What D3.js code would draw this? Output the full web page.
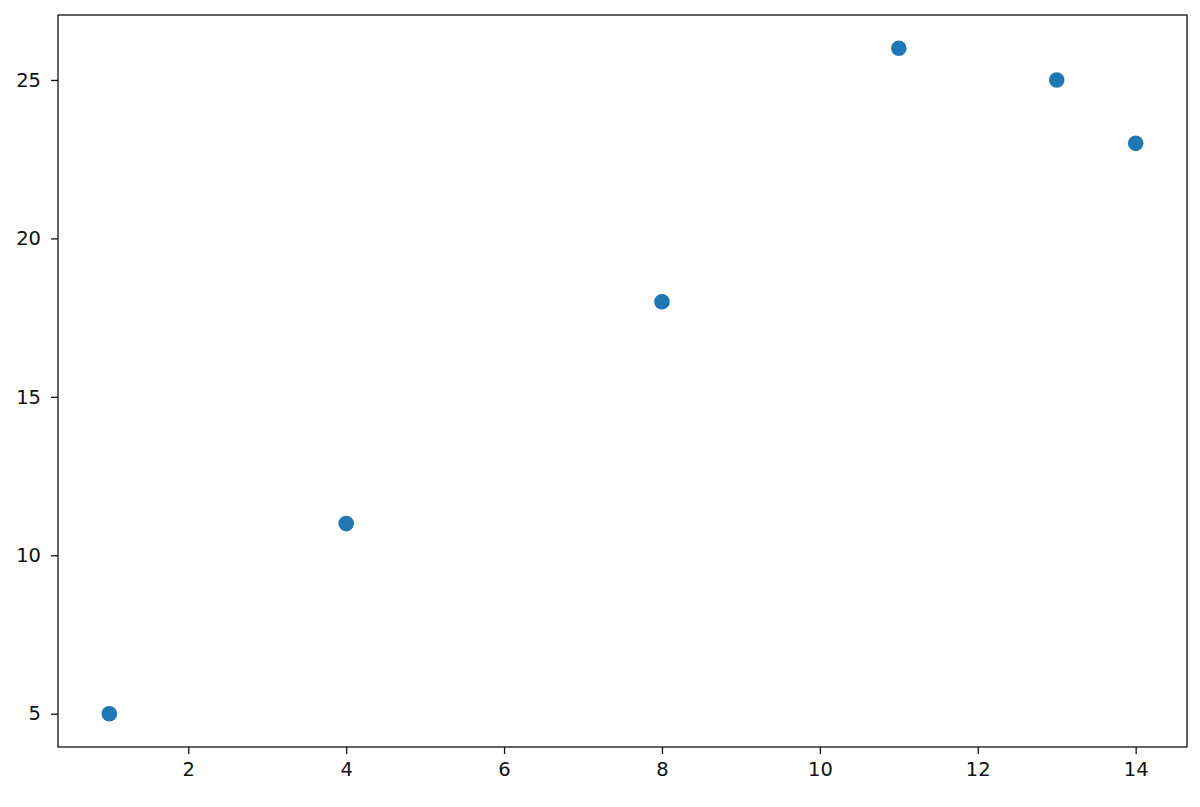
<!DOCTYPE html>
<html>
<head>
<meta charset="utf-8">
<script src="https://cdn.jsdelivr.net/npm/d3@7"></script>
<style>
  body { margin: 0; background: #fff; }
  .axis text { font-family: "DejaVu Sans", sans-serif; font-size: 19.5px; fill: #111; }
  .axis line { stroke: #111; stroke-width: 1.3; }
</style>
</head>
<body>
<div id="chart"></div>
<script>
var xValues = [1, 4, 8, 11, 13, 14];
var yValues = [5, 11, 18, 26, 25, 23];
var xTicks = [2, 4, 6, 8, 10, 12, 14];
var yTicks = [5, 10, 15, 20, 25];

var width = 1200, height = 807;
var margin = { top: 15, right: 13, bottom: 60, left: 58 };
var innerW = width - margin.left - margin.right;
var innerH = height - margin.top - margin.bottom;

// matplotlib-style 5% padding around data
var xExt = d3.extent(xValues), yExt = d3.extent(yValues);
var xPad = (xExt[1] - xExt[0]) * 0.05, yPad = (yExt[1] - yExt[0]) * 0.05;

var x = d3.scaleLinear().domain([xExt[0] - xPad, xExt[1] + xPad]).range([0, innerW]);
var y = d3.scaleLinear().domain([yExt[0] - yPad, yExt[1] + yPad]).range([innerH, 0]);

var svg = d3.select('#chart').append('svg')
  .attr('width', width)
  .attr('height', height)
  .append('g')
  .attr('transform', 'translate(' + margin.left + ',' + margin.top + ')');

svg.append('g')
  .attr('class', 'axis')
  .attr('transform', 'translate(0,' + innerH + ')')
  .call(d3.axisBottom(x).tickValues(xTicks).tickSize(7).tickPadding(8))
  .call(function(g) { g.select('.domain').remove(); });

svg.append('g')
  .attr('class', 'axis')
  .call(d3.axisLeft(y).tickValues(yTicks).tickSize(7).tickPadding(10))
  .call(function(g) { g.select('.domain').remove(); });

svg.append('rect')
  .attr('width', innerW)
  .attr('height', innerH)
  .attr('fill', 'none')
  .attr('stroke', '#111')
  .attr('stroke-width', 1.3);

svg.selectAll('.dot')
  .data(d3.zip(xValues, yValues))
  .enter()
  .append('circle')
  .attr('class', 'dot')
  .attr('cx', function(d) { return x(d[0]); })
  .attr('cy', function(d) { return y(d[1]); })
  .attr('r', 7.8)
  .attr('fill', '#1f77b4');
</script>
</body>
</html>
